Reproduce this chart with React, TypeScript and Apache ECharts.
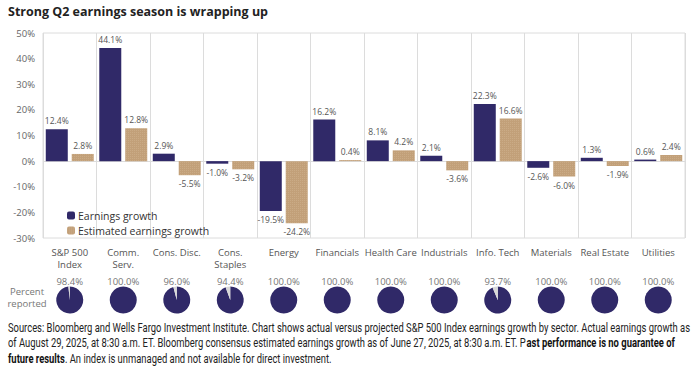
import React, { useEffect, useRef } from "react";
import * as echarts from "echarts";

const categories = [
  "S&P 500\nIndex",
  "Comm.\nServ.",
  "Cons. Disc.",
  "Cons.\nStaples",
  "Energy",
  "Financials",
  "Health Care",
  "Industrials",
  "Info. Tech",
  "Materials",
  "Real Estate",
  "Utilities",
];
const earningsGrowth = [12.4, 44.1, 2.9, -1.0, -19.5, 16.2, 8.1, 2.1, 22.3, -2.6, 1.3, 0.6];
const estimatedGrowth = [2.8, 12.8, -5.5, -3.2, -24.2, 0.4, 4.2, -3.6, 16.6, -6.0, -1.9, 2.4];
const percentReported = [98.4, 100.0, 96.0, 94.4, 100.0, 100.0, 100.0, 100.0, 93.7, 100.0, 100.0, 100.0];
const yMin = -30;
const yMax = 50;
const yInterval = 10;

const TITLE = "Strong Q2 earnings season is wrapping up";
const FOOT1 =
  "Sources: Bloomberg and Wells Fargo Investment Institute. Chart shows actual versus projected S&P 500 Index earnings growth by sector. Actual earnings growth as";
const FOOT2a = "of August 29, 2025, at 8:30 a.m. ET. Bloomberg consensus estimated earnings growth as of June 27, 2025, at 8:30 a.m. ET. P";
const FOOT2b = "ast performance is no guarantee of";
const FOOT3a = "future results";
const FOOT3b = ". An index is unmanaged and not available for direct investment.";

const NAVY = "#302968";
const TAN = "#c2a079";
const W = 700;
const H = 372;
const GRID_LEFT = 43;
const GRID_RIGHT = 15;

function measure(text: string, font: string) {
  const c = document.createElement("canvas").getContext("2d")!;
  c.font = font;
  return c.measureText(text).width;
}

export default function App() {
  const ref = useRef<HTMLDivElement>(null);
  useEffect(() => {
    const chart = echarts.init(ref.current!, null, { renderer: "svg" });
    const plotW = W - GRID_LEFT - GRID_RIGHT;
    const catW = plotW / categories.length;
    const footFont = "Roboto";
    const footSize = 12.5;
    const w1 = measure(FOOT1, `${footSize}px ${footFont}`);
    const footScale = 683 / w1;

    const pies: any[] = percentReported.map((v, i) => ({
      type: "pie",
      silent: true,
      center: [GRID_LEFT + catW * (i + 0.5), 300],
      radius: 13.5,
      startAngle: 90,
      clockwise: true,
      label: { show: false },
      labelLine: { show: false },
      emphasis: { disabled: true },
      data: [
        { value: v, itemStyle: { color: NAVY } },
        { value: Math.max(0, 100 - v), itemStyle: { color: "#d8d8d8" } },
      ],
    }));

    const pieLabels = percentReported.map((v, i) => ({
      type: "text",
      x: GRID_LEFT + catW * (i + 0.5),
      y: 281,
      style: {
        text: v.toFixed(1) + "%",
        fill: "#777",
        fontSize: 9.5,
        fontFamily: "Open Sans",
        align: "center",
        verticalAlign: "middle",
      },
    }));

    const labelOpt = {
      show: true,
      position: "outside",
      distance: 4,
      fontSize: 8.5,
      color: "#555",
      fontFamily: "Open Sans",
      formatter: (p: any) => Number(p.value).toFixed(1) + "%",
    };

    chart.setOption({
      animation: false,
      grid: {
        left: GRID_LEFT,
        right: GRID_RIGHT,
        top: 33,
        bottom: H - 238,
        show: true,
        borderColor: "#dcdcdc",
        borderWidth: 1,
      },
      legend: {
        orient: "vertical",
        left: 62,
        top: 205,
        itemWidth: 8,
        itemHeight: 8,
        itemGap: 4,
        textStyle: { fontSize: 10.5, color: "#333", fontFamily: "Open Sans", padding: [0, 0, 0, -2] },
        data: ["Earnings growth", "Estimated earnings growth"],
      },
      xAxis: {
        type: "category",
        data: categories,
        axisLine: { show: false },
        axisTick: { show: false },
        splitLine: { show: true, lineStyle: { color: "#dcdcdc", width: 1 } },
        axisLabel: {
          color: "#555",
          fontSize: 9.5,
          fontFamily: "Open Sans",
          margin: 8,
          lineHeight: 12,
          interval: 0,
        },
      },
      yAxis: {
        type: "value",
        min: yMin,
        max: yMax,
        interval: yInterval,
        axisLine: { show: false },
        axisTick: { show: false },
        splitLine: { show: false },
        axisLabel: {
          color: "#666",
          fontSize: 9.5,
          fontFamily: "Open Sans",
          margin: 8,
          formatter: (v: number) => v + "%",
        },
      },
      series: [
        {
          name: "Earnings growth",
          type: "bar",
          data: earningsGrowth,
          barWidth: 22,
          barGap: "18%",
          itemStyle: { color: NAVY },
          label: labelOpt,
          markLine: {
            silent: true,
            symbol: "none",
            label: { show: false },
            lineStyle: { color: "#dcdcdc", type: "solid", width: 1 },
            data: [{ yAxis: 0 }],
            z: 1,
          },
        },
        {
          name: "Estimated earnings growth",
          type: "bar",
          data: estimatedGrowth,
          barWidth: 22,
          itemStyle: {
            color: TAN,
            decal: {
              symbol: "rect",
              symbolSize: 0.6,
              dashArrayX: [1, 1],
              dashArrayY: [1, 1],
              color: "rgba(240,225,200,0.55)",
              rotation: 0,
            },
          },
          label: labelOpt,
        },
        ...pies,
      ],
      graphic: [
        {
          type: "text",
          left: 8,
          top: 5,
          style: {
            text: TITLE,
            fill: "#222",
            fontSize: 12.5,
            fontWeight: "bold",
            fontFamily: "Open Sans",
          },
        },
        {
          type: "text",
          x: 27,
          y: 297,
          style: {
            text: "Percent\nreported",
            fill: "#777",
            fontSize: 9.5,
            lineHeight: 12,
            fontFamily: "Open Sans",
            align: "center",
            verticalAlign: "middle",
          },
        },
        ...pieLabels,
        {
          type: "text",
          x: 8,
          y: 320,
          scaleX: footScale,
          style: {
            text:
              `{n|${FOOT1}}\n{n|${FOOT2a}}{b|${FOOT2b}}\n{b|${FOOT3a}}{n|${FOOT3b}}`,
            fill: "#222",
            fontFamily: footFont,
            fontSize: footSize,
            lineHeight: 15.5,
            rich: {
              n: { fontFamily: footFont, fontSize: footSize, lineHeight: 15.5, fill: "#222" },
              b: { fontFamily: footFont, fontSize: footSize, lineHeight: 15.5, fontWeight: "bold", fill: "#111" },
            },
          },
        },
      ],
    });
    return () => chart.dispose();
  }, []);
  return (
    <div
      ref={ref}
      style={{ position: "absolute", left: 0, top: 0, width: W, height: H, background: "#fff" }}
    />
  );
}
